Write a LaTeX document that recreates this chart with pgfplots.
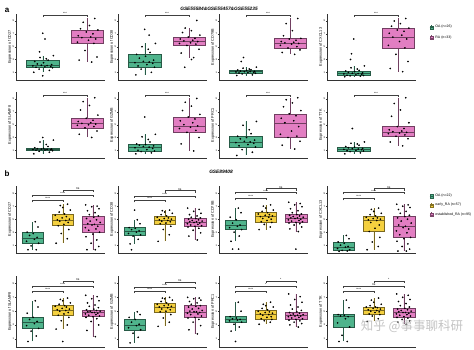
\documentclass[border=0pt]{standalone}
\usepackage{pgfplots}
\pgfplotsset{compat=1.18}
\usepackage{pgfplotstable}
\usepgfplotslibrary{statistics}
\usepackage{fontspec}
\setmainfont{Liberation Sans}
\newfontfamily\cjk{Noto Sans CJK SC}
\definecolor{oag}{HTML}{4FB48C}
\definecolor{rap}{HTML}{E27EC2}
\definecolor{ery}{HTML}{F4D03F}

% panel a, OA (green)
\pgfplotstableread{
j A1 A2 A3 A4 A5 A6 A7 A8
-0.20 1.0 0.6 0.5 0.3 0.45 0.45 0.2 0.45
0.15 1.3 1.0 0.6 0.4 0.7 0.6 0.7 0.6
-0.08 1.5 1.5 0.75 0.45 0.85 0.8 1.1 0.8
0.22 1.7 1.8 0.85 0.5 0.95 0.9 1.5 0.9
-0.15 1.8 2.0 0.9 0.55 1.0 1.0 1.7 0.95
0.05 1.85 2.2 0.95 0.6 1.05 1.1 1.9 1.0
0.18 1.9 2.4 1.0 0.7 1.1 1.3 2.1 1.1
-0.22 2.0 2.5 1.05 0.75 1.12 1.4 2.2 1.15
0.10 2.05 2.6 1.1 0.8 1.15 1.5 2.3 1.2
-0.03 2.1 2.7 1.1 0.85 1.18 1.6 2.4 1.25
0.20 2.2 2.9 1.15 0.9 1.2 1.7 2.6 1.3
-0.12 2.3 3.2 1.2 1.0 1.25 1.8 2.8 1.4
0.02 2.5 3.5 1.3 1.1 1.3 1.9 3.0 1.5
-0.18 2.7 3.8 1.35 1.2 1.4 2.0 3.2 1.6
0.12 2.9 4.1 1.4 1.3 1.6 2.3 3.6 1.8
0.08 3.1 4.6 1.5 1.5 1.9 2.7 4.2 2.0
-0.06 3.3 5.0 1.65 1.7 2.3 3.1 4.9 2.1
0.24 3.6 5.5 1.8 2.0 2.6 3.5 5.5 2.3
}\tAg
% panel a, RA (pink)
\pgfplotstableread{
j A1 A2 A3 A4 A5 A6 A7 A8
0.10 2.6 3.3 3.8 1.1 3.0 0.9 1.2 1.7
-0.18 2.9 4.0 4.1 1.6 3.5 2.0 1.8 2.3
0.22 3.4 4.6 4.5 2.7 4.0 3.0 2.4 2.8
-0.05 4.4 5.2 4.8 3.8 4.5 3.8 3.0 3.2
0.15 5.5 5.4 5.0 4.8 4.7 4.1 3.2 3.4
-0.22 5.7 5.5 5.2 5.2 4.9 4.4 3.5 3.6
0.03 6.0 5.6 5.4 5.8 5.0 4.6 4.0 3.7
0.19 6.2 5.8 5.5 6.2 5.1 4.8 4.7 3.8
-0.12 6.4 5.9 5.6 6.5 5.2 5.0 5.3 3.9
0.08 6.5 6.0 5.7 6.8 5.3 5.3 5.6 4.0
-0.20 6.7 6.2 5.8 7.1 5.5 5.6 6.0 4.2
0.13 7.0 6.3 6.0 7.4 5.7 5.9 6.4 4.4
-0.02 7.3 6.5 6.2 7.6 6.0 6.2 6.7 4.7
0.24 7.6 6.8 6.3 7.9 6.5 6.6 7.2 5.3
-0.15 7.8 7.2 6.7 8.2 7.3 7.2 7.8 6.3
0.05 8.3 7.5 7.5 8.6 8.0 7.9 8.4 7.3
-0.09 8.8 7.9 8.6 9.0 8.6 8.5 8.9 8.3
0.17 9.4 9.1 9.4 9.4 9.2 9.1 9.2 9.2
}\tAp
% panel b, OA
\pgfplotstableread{
j B1 B2 B3 B4 B5 B6 B7 B8
-0.15 0.3 1.2 1.6 0.05 0.6 0.4 2.1 0.6
0.12 0.3 1.9 2.4 0.1 1.4 1.2 2.7 0.6
-0.05 0.9 2.4 3.0 0.2 2.1 1.8 3.1 1.5
0.20 1.3 2.6 3.4 0.3 2.5 2.3 3.4 2.7
-0.20 1.6 2.8 3.7 0.5 2.9 2.6 3.6 3.3
0.06 1.9 3.0 3.9 0.7 3.2 2.9 3.7 3.9
0.15 2.2 3.2 4.1 0.8 3.5 3.1 3.8 4.2
-0.10 2.5 3.4 4.4 1.0 3.8 3.4 3.9 4.3
0.02 2.8 3.6 4.9 1.3 4.1 3.8 4.0 4.4
-0.18 3.0 3.7 5.3 1.5 4.7 4.1 4.2 4.5
0.18 3.8 4.3 6.0 2.0 5.6 4.5 5.0 5.5
0.09 4.6 4.9 6.7 2.5 6.5 4.9 6.3 6.6
}\tBo
% panel b, early RA
\pgfplotstableread{
j B1 B2 B3 B4 B5 B6 B7 B8
-0.22 1.3 1.6 3.4 0.3 2.4 2.8 3.1 3.5
0.15 2.0 2.6 3.8 0.8 3.0 3.4 3.4 3.9
-0.05 2.8 3.4 4.2 1.5 3.6 4.0 3.6 4.3
0.20 3.4 3.9 4.5 2.2 4.1 4.5 3.8 4.5
-0.15 4.0 4.3 4.6 3.1 4.4 4.9 3.9 4.6
0.04 4.2 4.4 4.8 3.6 4.6 5.0 4.1 4.8
0.18 4.5 4.6 5.0 4.1 4.8 5.2 4.2 4.9
-0.10 4.7 4.7 5.1 4.5 5.0 5.3 4.4 5.0
0.10 4.8 4.8 5.3 4.8 5.1 5.5 4.5 5.1
-0.18 4.9 4.9 5.4 4.9 5.2 5.6 4.6 5.2
0.22 5.0 5.0 5.5 5.0 5.3 5.7 4.7 5.3
-0.02 5.2 5.1 5.6 5.1 5.4 5.8 4.8 5.4
0.12 5.4 5.2 5.7 5.2 5.6 5.9 4.9 5.5
-0.25 5.6 5.3 5.8 5.3 5.7 6.0 5.0 5.6
0.06 5.8 5.5 6.0 5.5 5.8 6.2 5.2 5.6
-0.12 6.1 5.7 6.2 5.7 6.0 6.4 5.4 5.8
0.25 6.4 5.9 6.4 5.9 6.2 6.6 5.6 6.0
0.00 6.8 6.1 6.7 6.2 6.5 6.8 5.8 6.3
-0.08 7.1 6.3 7.0 6.5 6.7 6.9 6.0 6.6
0.16 7.3 6.4 7.2 6.7 6.9 7.0 6.3 6.9
}\tBe
% panel b, established RA
\pgfplotstableread{
j B1 B2 B3 B4 B5 B6 B7 B8
0.08 0.3 1.8 3.1 0.1 1.3 1.7 2.7 3.1
-0.20 0.3 2.4 3.5 0.1 2.2 2.3 3.0 3.4
0.19 0.8 2.9 3.8 0.4 3.0 2.9 3.2 3.6
-0.06 1.3 3.3 4.1 0.8 3.5 3.4 3.4 3.8
0.13 1.8 3.6 4.3 1.2 3.9 3.8 3.6 4.0
-0.23 2.3 3.8 4.4 1.6 4.1 4.0 3.7 4.1
0.00 2.7 3.9 4.5 2.0 4.2 4.1 3.8 4.2
0.22 3.0 4.0 4.6 2.2 4.3 4.3 3.9 4.3
-0.14 3.3 4.1 4.7 2.6 4.4 4.5 4.0 4.4
0.10 3.5 4.2 4.8 2.9 4.5 4.6 4.1 4.5
-0.25 3.7 4.3 4.9 3.2 4.6 4.7 4.2 4.6
0.16 3.9 4.4 5.0 3.5 4.7 4.8 4.3 4.7
-0.03 4.1 4.5 5.1 3.7 4.8 4.9 4.3 4.8
0.05 4.2 4.6 5.2 3.9 4.8 4.9 4.4 4.8
-0.17 4.3 4.6 5.2 4.1 4.9 5.0 4.4 4.9
0.24 4.5 4.7 5.3 4.4 5.0 5.1 4.5 5.0
-0.09 4.7 4.8 5.4 4.7 5.0 5.3 4.6 5.1
0.12 4.9 4.9 5.5 5.0 5.1 5.4 4.7 5.2
-0.21 5.1 5.0 5.6 5.2 5.2 5.6 4.8 5.3
0.03 5.3 5.1 5.7 5.4 5.3 5.7 4.9 5.4
0.18 5.5 5.2 5.8 5.6 5.5 5.8 5.1 5.6
-0.12 5.7 5.3 6.0 5.9 5.7 6.0 5.3 5.8
0.07 6.0 5.5 6.3 6.2 5.9 6.2 5.6 6.1
-0.18 6.3 5.7 6.6 6.5 6.2 6.4 5.9 6.4
0.20 6.6 5.9 6.9 6.8 6.5 6.6 6.3 6.7
-0.04 6.9 6.2 7.2 7.0 6.8 6.8 6.7 7.0
0.14 7.0 6.5 7.4 7.2 7.1 6.9 7.1 7.3
-0.24 7.2 6.7 7.6 7.3 7.3 7.0 7.5 7.5
}\tBs

\newcommand{\tinyf}{\fontsize{2.6}{3}\selectfont}
\newcommand{\sigf}{\fontsize{3.1}{3.4}\selectfont}
\pgfplotsset{
  base/.style={scale only axis, width=89pt, axis lines*=left, clip=false,
    axis line style={line width=0.35pt, black!80, -},
    ymin=-0.2, ymax=10.1, ytick={1,3,5,7,9},
    xticklabels={,,,},
    tick align=outside, major tick length=1.2pt,
    tick style={line width=0.3pt, black!80},
    ticklabel style={font=\tinyf, inner sep=0.6pt},
    ylabel style={font=\fontsize{3.8}{4}\selectfont, inner sep=0pt},
    /pgf/number format/assume math mode=true},
  pa/.style={base, height=66pt, xmin=0.4, xmax=2.4, xtick={1,2}},
  pb/.style={base, xmin=0.45, xmax=3.4, xtick={1,2,3}},
  dots/.style={only marks, mark=*, mark size=0.62pt, draw=black, fill=black},
  lgoa/.style={legend image code/.code={\draw[fill=oag,draw=oag!55!black,line width=0.3pt] (0pt,-1.6pt) rectangle (3.6pt,1.6pt); \draw[oag!55!black,line width=0.3pt] (0pt,0pt)--(3.6pt,0pt) (1.8pt,-2.5pt)--(1.8pt,-1.6pt) (1.8pt,1.6pt)--(1.8pt,2.5pt);}},
  lgra/.style={legend image code/.code={\draw[fill=rap,draw=rap!55!black,line width=0.3pt] (0pt,-1.6pt) rectangle (3.6pt,1.6pt); \draw[rap!55!black,line width=0.3pt] (0pt,0pt)--(3.6pt,0pt) (1.8pt,-2.5pt)--(1.8pt,-1.6pt) (1.8pt,1.6pt)--(1.8pt,2.5pt);}},
  lger/.style={legend image code/.code={\draw[fill=ery,draw=ery!55!black,line width=0.3pt] (0pt,-1.6pt) rectangle (3.6pt,1.6pt); \draw[ery!55!black,line width=0.3pt] (0pt,0pt)--(3.6pt,0pt) (1.8pt,-2.5pt)--(1.8pt,-1.6pt) (1.8pt,1.6pt)--(1.8pt,2.5pt);}},
  lgst/.style={legend style={font=\fontsize{3.5}{4}\selectfont, draw=none, fill=none, inner sep=0pt, anchor=north west, legend cell align=left, /tikz/every even column/.append style={column sep=1pt}}}
}
% box: color, lw, q1, med, q3, uw, pos
\newcommand{\bx}[7]{\addplot[boxplot prepared={draw direction=y, lower whisker=#2, lower quartile=#3, median=#4, upper quartile=#5, upper whisker=#6, draw position=#7, box extend=0.72, whisker extend=0}, fill=#1, draw=#1!50!black, line width=0.4pt] coordinates {};}
\newcommand{\pts}[3]{\addplot[dots] table[x expr=\thisrow{j}+#3, y=#2] {#1};}
% bracket: x1, x2, xmid, y, ylow, label
\newcommand{\br}[6]{\draw[line width=0.3pt, black!75] (axis cs:#1,#5) -- (axis cs:#1,#4) -- (axis cs:#2,#4) -- (axis cs:#2,#5); \node[font=\sigf, inner sep=0.3pt, anchor=south] at (axis cs:#3,#4) {#6};}

\begin{document}
\begin{tikzpicture}
\useasboundingbox (0,0) rectangle (474pt,350pt);
\node[font=\bfseries\fontsize{8}{8}\selectfont] at (7pt,340pt) {a};
\node[font=\bfseries\itshape\fontsize{4.8}{5}\selectfont] at (219pt,341pt) {GSE55584\&GSE55457\&GSE55235};
\node[font=\bfseries\fontsize{8}{8}\selectfont] at (7pt,176pt) {b};
\node[font=\bfseries\itshape\fontsize{4.8}{5}\selectfont] at (221pt,178pt) {GSE89408};

% ===== panel a row 1
\begin{axis}[pa, at={(16pt,270pt)}, ylabel={Expression of CD27}]
\bx{oag}{1.0}{1.8}{2.1}{2.9}{3.6}{1}
\bx{rap}{2.6}{5.5}{6.5}{7.6}{9.4}{2}
\pts{\tAg}{A1}{1}
\pts{\tAp}{A1}{2}
\addplot[dots] coordinates {(1.0,7.1)(1.05,6.2)(0.93,4.2)(1.0,0.45)};
\br{1}{2}{1.5}{9.9}{9.6}{***}
\end{axis}
\begin{axis}[pa, at={(118pt,270pt)}, ylabel={Expression of CD38}]
\bx{oag}{0.6}{1.8}{2.6}{3.8}{5.5}{1}
\bx{rap}{3.3}{5.2}{5.8}{6.5}{7.9}{2}
\pts{\tAg}{A2}{1}
\pts{\tAp}{A2}{2}
\addplot[dots] coordinates {(1.0,7.7)(1.1,6.8)(1.9,1.8)(2.05,3.0)};
\br{1}{2}{1.5}{9.9}{9.6}{***}
\end{axis}
\begin{axis}[pa, at={(219pt,270pt)}, ylabel={Expression of CD79B}]
\bx{oag}{0.5}{0.9}{1.1}{1.4}{1.8}{1}
\bx{rap}{3.8}{4.8}{5.6}{6.3}{9.4}{2}
\pts{\tAg}{A3}{1}
\pts{\tAp}{A3}{2}
\addplot[dots] coordinates {(0.95,3.3)(0.9,2.7)};
\br{1}{2}{1.5}{9.9}{9.6}{***}
\end{axis}
\begin{axis}[pa, at={(327pt,270pt)}, ylabel={Expression of CXCL13}, lgst, legend style={at={(1.15,0.86)}, row sep=2.2pt}]
\addlegendimage{lgoa}\addlegendentry{OA (n=26)}
\addlegendimage{lgra}\addlegendentry{RA (n=33)}
\bx{oag}{0.3}{0.5}{0.8}{1.2}{2.0}{1}
\bx{rap}{1.1}{4.8}{6.5}{7.9}{9.4}{2}
\pts{\tAg}{A4}{1}
\pts{\tAp}{A4}{2}
\addplot[dots] coordinates {(1.0,6.2)(0.95,3.9)(0.93,3.0)};
\br{1}{2}{1.5}{9.9}{9.6}{***}
\end{axis}

% ===== panel a row 2
\begin{axis}[pa, at={(16pt,192pt)}, ylabel={Expression of SLAMF8}]
\bx{oag}{0.45}{1.0}{1.15}{1.3}{2.6}{1}
\bx{rap}{3.0}{4.5}{5.2}{6.0}{9.2}{2}
\pts{\tAg}{A5}{1}
\pts{\tAp}{A5}{2}
\addplot[dots] coordinates {(1.0,3.0)};
\br{1}{2}{1.5}{9.6}{9.3}{***}
\end{axis}
\begin{axis}[pa, at={(118pt,192pt)}, ylabel={Expression of GZMB}]
\bx{oag}{0.45}{0.9}{1.5}{2.0}{3.5}{1}
\bx{rap}{0.9}{3.8}{4.8}{6.2}{9.1}{2}
\pts{\tAg}{A6}{1}
\pts{\tAp}{A6}{2}
\addplot[dots] coordinates {(1.0,6.2)};
\br{1}{2}{1.5}{9.6}{9.3}{***}
\end{axis}
\begin{axis}[pa, at={(219pt,192pt)}, ylabel={Expression of PRC1}]
\bx{oag}{0.2}{1.5}{2.3}{3.2}{5.5}{1}
\bx{rap}{1.2}{3.0}{5.3}{6.7}{9.2}{2}
\pts{\tAg}{A7}{1}
\pts{\tAp}{A7}{2}
\br{1}{2}{1.5}{9.6}{9.3}{***}
\end{axis}
\begin{axis}[pa, at={(327pt,192pt)}, ylabel={Expression of TTK}]
\bx{oag}{0.45}{0.9}{1.2}{1.5}{2.3}{1}
\bx{rap}{1.7}{3.2}{3.9}{4.7}{9.2}{2}
\pts{\tAg}{A8}{1}
\pts{\tAp}{A8}{2}
\addplot[dots] coordinates {(0.97,4.4)};
\br{1}{2}{1.5}{9.6}{9.3}{***}
\end{axis}

% ===== panel b row 1
\begin{axis}[pb, height=67pt, at={(16pt,97pt)}, ylabel={Expression of CD27}]
\bx{oag}{0.3}{1.3}{2.1}{3.0}{4.6}{1}
\bx{ery}{1.3}{4.0}{4.9}{5.8}{7.3}{2}
\bx{rap}{0.3}{3.0}{4.2}{5.5}{7.2}{3}
\pts{\tBo}{B1}{1}\pts{\tBe}{B1}{2}\pts{\tBs}{B1}{3}
\br{1}{2}{1.5}{7.9}{7.6}{****}
\br{1}{3}{2}{8.7}{8.4}{****}
\br{2}{3}{2.5}{9.5}{9.2}{ns}
\end{axis}
\begin{axis}[pb, height=67pt, at={(118pt,97pt)}, ylabel={Expression of CD38}]
\bx{oag}{1.2}{2.6}{3.1}{3.7}{4.9}{1}
\bx{ery}{1.6}{4.3}{4.9}{5.5}{6.4}{2}
\bx{rap}{1.8}{3.9}{4.6}{5.2}{6.7}{3}
\pts{\tBo}{B2}{1}\pts{\tBe}{B2}{2}\pts{\tBs}{B2}{3}
\addplot[dots] coordinates {(1.0,6.4)(0.9,0.3)};
\br{1}{2}{1.5}{7.9}{7.6}{****}
\br{1}{3}{2}{8.6}{8.3}{****}
\br{2}{3}{2.5}{9.4}{9.1}{ns}
\end{axis}
\begin{axis}[pb, height=67pt, at={(219pt,97pt)}, ylabel={Expression of CD79B}]
\bx{oag}{1.6}{3.4}{4.0}{4.9}{6.7}{1}
\bx{ery}{3.4}{4.6}{5.4}{6.0}{7.2}{2}
\bx{rap}{3.1}{4.5}{5.2}{5.8}{7.6}{3}
\pts{\tBo}{B3}{1}\pts{\tBe}{B3}{2}\pts{\tBs}{B3}{3}
\addplot[dots] coordinates {(0.9,0.4)(1.1,0.4)(3.0,0.4)};
\br{1}{2}{1.5}{8.2}{7.9}{****}
\br{1}{3}{2}{9.1}{8.8}{****}
\br{2}{3}{2.5}{9.7}{9.4}{ns}
\end{axis}
\begin{axis}[pb, height=67pt, at={(327pt,97pt)}, ylabel={Expression of CXCL13}, lgst, legend style={at={(1.15,0.91)}, row sep=1.2pt}]
\addlegendimage{lgoa}\addlegendentry{OA (n=22)}
\addlegendimage{lger}\addlegendentry{early\_RA (n=57)}
\addlegendimage{lgra}\addlegendentry{established\_RA (n=95)}
\bx{oag}{0.05}{0.2}{0.7}{1.5}{2.5}{1}
\bx{ery}{0.3}{3.1}{4.9}{5.5}{6.7}{2}
\bx{rap}{0.1}{2.2}{3.9}{5.4}{7.3}{3}
\pts{\tBo}{B4}{1}\pts{\tBe}{B4}{2}\pts{\tBs}{B4}{3}
\br{1}{2}{1.5}{8.2}{7.9}{****}
\br{1}{3}{2}{9.1}{8.8}{****}
\br{2}{3}{2.5}{9.7}{9.4}{ns}
\end{axis}

% ===== panel b row 2
\begin{axis}[pb, height=71pt, at={(16pt,3pt)}, ylabel={Expression of SLAMF8}]
\bx{oag}{0.6}{2.5}{3.4}{4.1}{6.5}{1}
\bx{ery}{2.4}{4.4}{5.2}{5.8}{6.9}{2}
\bx{rap}{1.3}{4.2}{4.8}{5.2}{7.3}{3}
\pts{\tBo}{B5}{1}\pts{\tBe}{B5}{2}\pts{\tBs}{B5}{3}
\addplot[dots] coordinates {(2.0,0.6)};
\br{1}{2}{1.5}{7.9}{7.6}{****}
\br{1}{3}{2}{8.6}{8.3}{****}
\br{2}{3}{2.5}{9.4}{9.1}{ns}
\end{axis}
\begin{axis}[pb, height=71pt, at={(118pt,3pt)}, ylabel={Expression of GZMB}]
\bx{oag}{0.4}{2.3}{3.0}{3.8}{4.9}{1}
\bx{ery}{2.8}{4.9}{5.6}{6.2}{7.0}{2}
\bx{rap}{1.7}{4.1}{4.9}{5.8}{7.0}{3}
\pts{\tBo}{B6}{1}\pts{\tBe}{B6}{2}\pts{\tBs}{B6}{3}
\br{1}{2}{1.5}{7.9}{7.6}{****}
\br{1}{3}{2}{8.5}{8.2}{****}
\br{2}{3}{2.5}{9.2}{8.9}{ns}
\end{axis}
\begin{axis}[pb, height=71pt, at={(219pt,3pt)}, ylabel={Expression of PRC1}]
\bx{oag}{2.1}{3.4}{3.8}{4.2}{6.3}{1}
\bx{ery}{3.1}{3.9}{4.6}{5.2}{6.3}{2}
\bx{rap}{2.7}{3.8}{4.4}{4.9}{7.5}{3}
\pts{\tBo}{B7}{1}\pts{\tBe}{B7}{2}\pts{\tBs}{B7}{3}
\addplot[dots] coordinates {(1.0,0.6)};
\br{1}{2}{1.5}{7.9}{7.6}{****}
\br{1}{3}{2}{8.6}{8.3}{*}
\br{2}{3}{2.5}{9.4}{9.1}{*}
\end{axis}
\begin{axis}[pb, height=71pt, at={(327pt,3pt)}, ylabel={Expression of TTK}]
\bx{oag}{0.6}{2.7}{4.2}{4.5}{6.6}{1}
\bx{ery}{3.5}{4.6}{5.2}{5.6}{6.9}{2}
\bx{rap}{3.1}{4.1}{4.8}{5.4}{7.5}{3}
\pts{\tBo}{B8}{1}\pts{\tBe}{B8}{2}\pts{\tBs}{B8}{3}
\br{1}{2}{1.5}{7.9}{7.6}{****}
\br{1}{3}{2}{8.6}{8.3}{ns}
\br{2}{3}{2.5}{9.4}{9.1}{*}
\end{axis}

\node[font=\cjk\fontsize{12.5}{13}\selectfont, text=gray!55, opacity=0.85] at (412pt,24pt) {知乎 @事事聊科研};
\end{tikzpicture}
\end{document}
